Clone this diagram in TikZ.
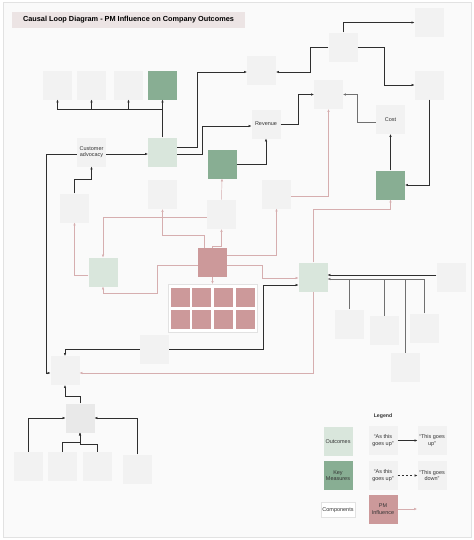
\documentclass[tikz,border=0pt]{standalone}
\usepackage{fontspec}
\setmainfont{Liberation Sans}
\usetikzlibrary{arrows.meta}

\definecolor{framegray}{HTML}{E2E2E2}
\definecolor{bggray}{HTML}{FAFAFA}
\definecolor{boxgray}{HTML}{F2F2F2}
\definecolor{nodegray}{HTML}{E9E9E9}
\definecolor{outgreen}{HTML}{D9E6DC}
\definecolor{keygreen}{HTML}{88AE93}
\definecolor{pmpink}{HTML}{CC999A}
\definecolor{titlepink}{HTML}{ECE4E4}
\definecolor{darkline}{HTML}{2E2E2E}
\definecolor{midline}{HTML}{707070}
\definecolor{pinkline}{HTML}{D6AEAF}
\definecolor{txtgray}{HTML}{333333}

\tikzset{
  box/.style={minimum size=14.5mm, inner sep=0pt, fill=boxgray, align=center,
    text=txtgray, font=\fontsize{7.8}{9}\selectfont},
  outbox/.style={box, fill=outgreen},
  keybox/.style={box, fill=keygreen},
  pmbox/.style={box, fill=pmpink},
  cellbox/.style={minimum size=9.5mm, inner sep=0pt, fill=pmpink},
  titlebox/.style={minimum width=116.5mm, minimum height=8mm, inner sep=0pt,
    fill=titlepink, font=\fontsize{10.4}{12}\selectfont\bfseries},
  dk/.style={draw=darkline, line width=0.65pt},
  md/.style={draw=midline, line width=0.65pt},
  pk/.style={draw=pinkline, line width=0.65pt}
}

\begin{document}
\begin{tikzpicture}[x=0.5mm, y=-0.5mm, >={Latex[length=4pt,width=3.6pt]}]
      \useasboundingbox (0,0) rectangle (474,540);
      \draw[draw=framegray, fill=bggray] (3,2) rectangle (471,537);

      \node[titlebox] (title) at (128.5,20) {Causal Loop Diagram - PM Influence on Company Outcomes};

      \node[box] (t1) at (57.5,85) {};
      \node[box] (t2) at (91.5,85) {};
      \node[box] (t3) at (128.5,85) {};
      \node[keybox] (t4) at (162.5,85) {};

      \node[box] (cust) at (91.5,152) {Customer\\advocacy};
      \node[outbox] (out1) at (162.5,152) {};
      \node[keybox] (key1) at (222,164) {};
      \node[box] (rev) at (266,124) {Revenue};
      \node[box] (ra) at (261.5,70.5) {};
      \node[box] (rb) at (343,47) {};
      \node[box] (rc) at (328.5,94.5) {};
      \node[box] (rd) at (429,22.5) {};
      \node[box] (re) at (429,85) {};
      \node[box] (cost) at (390.5,119.5) {Cost};
      \node[keybox] (key2) at (390.5,185) {};

      \node[box] (li) at (74.5,208) {};
      \node[box] (lh) at (162.5,194.5) {};
      \node[box] (lg) at (221.5,214.5) {};
      \node[box] (rf) at (276.5,194) {};

      \node[outbox] (out2) at (103,272) {};
      \node[pmbox] (pm) at (212.5,262.5) {};
      \node[outbox] (out3) at (313,277) {};
      \node[box] (rl) at (451,277) {};

      % components
      \node[minimum width=44.5mm, minimum height=24mm, inner sep=0pt, fill=white, draw=framegray] (grid) at (212.5,308) {};
      \node[cellbox] (c1) at (180,297.8) {};
      \node[cellbox] (c2) at (201.7,297.8) {};
      \node[cellbox] (c3) at (223.3,297.8) {};
      \node[cellbox] (c4) at (245.5,297.8) {};
      \node[cellbox] (c5) at (180,319.5) {};
      \node[cellbox] (c6) at (201.7,319.5) {};
      \node[cellbox] (c7) at (223.3,319.5) {};
      \node[cellbox] (c8) at (245.5,319.5) {};

      \node[box] (m1) at (349.5,324) {};
      \node[box] (m2) at (384,330.5) {};
      \node[box] (m3) at (424.5,328) {};
      \node[box] (m4) at (405.5,367.5) {};

      \node[box] (lk) at (154.5,349) {};
      \node[box] (lj) at (65,370.5) {};
      \node[box, fill=nodegray] (ln) at (80,418) {};
      \node[box] (p1) at (28.5,466.5) {};
      \node[box] (p2) at (62.5,466.5) {};
      \node[box] (p3) at (97.5,466.5) {};
      \node[box] (p4) at (137.5,469) {};

      % legend
      \node[text=txtgray, font=\fontsize{7.4}{8}\selectfont\bfseries] (legend) at (383,416) {Legend};
      \node[outbox] (lgout) at (338,441.5) {Outcomes};
      \node[keybox] (lgkey) at (338,475.5) {Key\\Measures};
      \node[box, minimum width=17mm, minimum height=7.5mm, fill=white, draw=framegray, line width=0.8pt] (lgcomp) at (338,510) {Components};
      \node[pmbox] (lgpm) at (383,509) {PM\\Influence};
      \node[box] (lgup1) at (383,440.5) {“As this\\goes up”};
      \node[box] (lgup2) at (383,475.5) {“As this\\goes up”};
      \node[box] (lgres1) at (432,440.5) {“This goes\\up”};
      \node[box] (lgres2) at (432,475.5) {“This goes\\down”};
      \coordinate (lgend) at (417,509);

      \draw[dk,->] (lgup1.east) -- (lgres1.west);
      \draw[dk,->,dashed] (lgup2.east) -- (lgres2.west);
      \draw[pk,->] (lgpm.east) -- (lgend);

      % dark links
      \draw[dk,->] (out1.north) -- (out1.north |- 0,109) -| (t1.south);
      \draw[dk,->] (t2.south |- 0,109) -- (t2.south);
      \draw[dk,->] (t3.south |- 0,109) -- (t3.south);
      \draw[dk,->] (t4.south |- 0,109) -- (t4.south);

      \draw[dk,->] (out1.east |- 0,147) -- (197,147) |- (ra.west |- 0,72);
      \draw[dk,->] (out1.east |- 0,154) -- (202,154) |- (rev.west |- 0,126);
      \draw[dk,->] (rb.west) -- (310,47) |- (ra.east |- 0,72);
      \draw[dk,->] (rb.north) |- (rd.west);
      \draw[dk,->] (rb.east) -- (384,47) |- (re.west);
      \draw[dk,->] (re.south) |- (key2.east);
      \draw[dk,->] (key2.north) -- (cost.south);
      \draw[md,->] (cost.west |- 0,122) -- (357,122) |- (rc.east);
      \draw[dk,->] (rev.east) -- (298,124) |- (rc.west);
      \draw[dk,->] (key1.east) -| (rev.south);

      \draw[dk,->] (li.north) -- (74.5,179) -| (cust.south);
      \draw[dk,->] (cust.east |- 0,154) -- (out1.west |- 0,154);
      \draw[dk,->] (cust.west |- 0,154) -- (46,154) |- (lj.west |- 0,373);
      \draw[dk,->] (lk.west) -| (lj.north);
      \draw[dk,->] (lk.east) -- (263,349) |- (out3.west |- 0,285);
      \draw[dk,->] (rl.west |- 0,275) -- (out3.east |- 0,275);

      \draw[md,->] (m3.north) |- (out3.east |- 0,279);
      \draw[md] (m1.north) -- (m1.north |- 0,279);
      \draw[md] (m2.north) -- (m2.north |- 0,279);
      \draw[md] (m4.north) -- (m4.north |- 0,279);

      \draw[dk,->] (ln.north) -- (80,396) -| (lj.south);
      \draw[dk,->] (p1.north) |- (ln.west);
      \draw[dk,->] (p4.north) |- (ln.east);
      \draw[dk,->] (p2.north) -- (62.5,442) -| (ln.south);
      \draw[dk,->] (p3.north) -- (97.5,444) -| (ln.south);

      % pm influence links
      \draw[pk,->] (pm.east |- 0,255) -| (rf.south);
      \draw[pk,->] (rf.east |- 0,196) -| (rc.south);
      \draw[pk,->] (lg.north) -- (key1.south);
      \draw[pk,->] (pm.north) -- ++(0,-2) -| (lg.south);
      \draw[pk,->] (pm.north -| 204,0) -- (204,235) -| (lh.south);
      \draw[pk,->] (lg.west |- 0,217) -| (out2.north);
      \draw[pk,->] (out2.west |- 0,275) -| (li.south);
      \draw[pk,->] (pm.east |- 0,265) -- (262,265) |- (out3.west |- 0,278);
      \draw[pk,->] (pm.south) -- (grid.north);
      \draw[pk,->] (pm.west |- 0,265) -- (157,265) |- (out2.south |- 0,293) -- (out2.south);
      \draw[pk,->] (out3.north) -- (313,209) -| (key2.south);
      \draw[pk,->] (out3.south) |- (lj.east |- 0,373);
    \end{tikzpicture}
\end{document}
